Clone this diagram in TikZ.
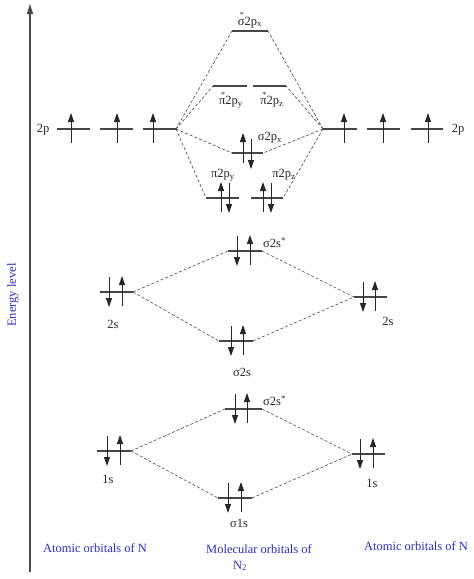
\documentclass[tikz,border=0pt]{standalone}
\usepackage{fontspec}
\setmainfont{Liberation Serif}
\usetikzlibrary{arrows.meta}
\definecolor{axisblue}{RGB}{45,45,200}
\definecolor{lvlgray}{RGB}{70,70,70}
\newcommand\mlev[4]{\coordinate (#1-l) at (#2,#4); \coordinate (#1-r) at (#3,#4); \draw[lvl] (#1-l) -- (#1-r);}
\newcommand\elup[2]{\draw[elec] (#1,{#2+14}) -- (#1,{#2-16});}
\newcommand\eldn[2]{\draw[elec] (#1,{#2-15}) -- (#1,{#2+15});}
\newcommand\starover[1]{\rlap{\raisebox{0.6em}{\kern0.15em\footnotesize*}}#1}
\begin{document}
\begin{tikzpicture}[x=1pt,y=-1pt,
  lvl/.style={draw=lvlgray, line width=1.1pt},
  conn/.style={draw=lvlgray, dash pattern=on 3pt off 2pt, line width=0.6pt},
  elec/.style={-{Triangle[length=9pt,width=6pt]}, line width=1pt, draw=black!85, fill=black!85},
  lbl/.style={font=\fontsize{12.5}{14}\selectfont, inner sep=0pt, text=black!85},
  bluelbl/.style={font=\fontsize{12.5}{15}\selectfont, inner sep=0pt, text=axisblue, align=center}]
\useasboundingbox (0,0) rectangle (474,579);
% axis
\coordinate (axbot) at (30,572);
\coordinate (axtop) at (30,4);
\draw[draw=lvlgray, line width=1.1pt, -{Triangle[length=10pt,width=6pt]}] (axbot) -- (axtop);
\node[bluelbl, rotate=90] (elabel) at (13,295) {Energy level};
% left 2p
\mlev{lp1}{57}{90}{129} \mlev{lp2}{100}{133}{129} \mlev{lp3}{143}{176}{129}
\elup{71}{129} \elup{117}{129} \elup{153}{129}
\node[lbl] (l2p) at (43,130) {2p};
% right 2p
\mlev{rp1}{323}{357}{129} \mlev{rp2}{367}{400}{129} \mlev{rp3}{411}{443}{129}
\elup{344}{129} \elup{383}{129} \elup{428}{129}
\node[lbl] (r2p) at (458,130) {2p};
% sigma* 2px
\mlev{ssx}{232}{268}{31}
\node[lbl, anchor=south] (ssxl) at (250,28) {\starover{σ}2p\textsubscript{x}};
% pi* levels
\mlev{spy}{213}{247}{86} \mlev{spz}{253}{286}{86}
\node[lbl, anchor=north] (spyl) at (231,92) {\starover{π}2p\textsubscript{y}};
\node[lbl, anchor=north] (spzl) at (272,92) {\starover{π}2p\textsubscript{z}};
% sigma 2px
\mlev{sx}{232}{263}{153}
\elup{243}{149} \eldn{251}{154}
\node[lbl] (sxl) at (270,138) {σ2p\textsubscript{x}};
% pi 2p
\mlev{py}{206}{239}{198} \mlev{pz}{251}{283}{198}
\elup{221}{198} \eldn{229}{198} \elup{263}{198} \eldn{271}{198}
\node[lbl] (pyl) at (223,175) {π2p\textsubscript{y}};
\node[lbl] (pzl) at (284,175) {π2p\textsubscript{z}};
% 2p connectors
\foreach \t in {ssx,spy,sx,py} \draw[conn] (lp3-r) -- (\t-l);
\draw[conn] (rp1-l) -- (ssx-r);
\draw[conn] (rp1-l) -- (spz-r);
\draw[conn] (rp1-l) -- (sx-r);
\draw[conn] (rp1-l) -- (pz-r);
% 2s
\mlev{ls}{100}{133}{292} \eldn{109}{292} \elup{122}{292}
\node[lbl] (lsl) at (113,324) {2s};
\mlev{ss2}{228}{262}{251} \eldn{237}{251} \elup{250}{251}
\node[lbl, anchor=west] (ss2l) at (263,243) {σ2s\textsuperscript{*}};
\mlev{s2}{219}{253}{341} \eldn{231}{341} \elup{243}{341}
\node[lbl] (s2l) at (242,372) {σ2s};
\mlev{rs}{354}{387}{297} \eldn{363}{297} \elup{375}{297}
\node[lbl] (rsl) at (388,321) {2s};
\draw[conn] (ls-r) -- (ss2-l);
\draw[conn] (ls-r) -- (s2-l);
\draw[conn] (ss2-r) -- (rs-l);
\draw[conn] (s2-r) -- (rs-l);
% 1s
\mlev{l1}{97}{131}{451} \eldn{107}{451} \elup{120}{451}
\node[lbl] (l1l) at (108,479) {1s};
\mlev{ss1}{225}{262}{409} \eldn{235}{409} \elup{247}{409}
\node[lbl, anchor=west] (ss1l) at (263,401) {σ2s\textsuperscript{*}};
\mlev{s1}{218}{252}{498} \eldn{228}{498} \elup{241}{498}
\node[lbl] (s1l) at (239,523) {σ1s};
\mlev{r1}{352}{385}{454} \eldn{360}{454} \elup{373}{454}
\node[lbl] (r1l) at (372,483) {1s};
\draw[conn] (l1-r) -- (ss1-l);
\draw[conn] (l1-r) -- (s1-l);
\draw[conn] (ss1-r) -- (r1-l);
\draw[conn] (s1-r) -- (r1-l);
% bottom labels
\node[bluelbl] (aoL) at (95,548) {Atomic orbitals of N};
\node[bluelbl] (mo) at (259,549) {Molecular orbitals of};
\node[bluelbl] (mo2) at (240,566) {N\textsubscript{2}};
\node[bluelbl] (aoR) at (416,546) {Atomic orbitals of N};
\end{tikzpicture}
\end{document}
